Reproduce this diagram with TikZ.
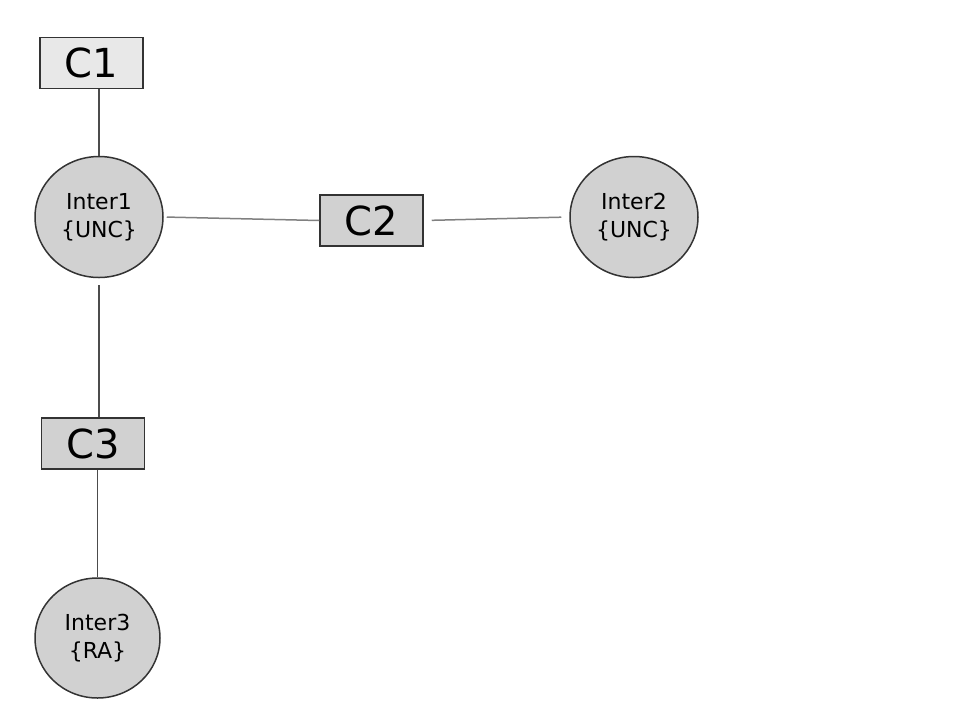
\documentclass[tikz,border=0pt]{standalone}
\usepackage{fontspec}
\setmainfont{DejaVu Sans}
\usetikzlibrary{shapes.geometric}
\begin{document}
\begin{tikzpicture}[x=1pt,y=-1pt,
  cbox/.style={draw=black!80,line width=1.5pt,minimum width=103pt,minimum height=51pt,inner sep=0pt,font=\fontsize{40}{44}\selectfont},
  inter/.style={ellipse,draw=black!80,line width=1.5pt,fill=black!18,minimum width=128pt,minimum height=121pt,inner sep=0pt,align=center,font=\fontsize{22}{28}\selectfont},
  link/.style={black!50,line width=1.5pt}]
\useasboundingbox (0,0) rectangle (978,716);
\node[cbox,fill=black!9] (c1) at (91.5,63) {C1};
\node[inter] (i1) at (99,217) {Inter1\\\{UNC\}};
\node[cbox,fill=black!18] (c2) at (371.5,220.5) {C2};
\node[inter] (i2) at (634,217) {Inter2\\\{UNC\}};
\node[cbox,fill=black!18] (c3) at (93,443.5) {C3};
\node[inter,minimum width=125pt,minimum height=120pt] (i3) at (97.5,638) {Inter3\\\{RA\}};
\draw[link,black!70] (c1.south -| i1.north) -- (i1.north);
\draw[link,shorten <=3pt] (i1.east) -- (c2.west);
\draw[link,shorten <=8pt,shorten >=8pt] (c2.east) -- (i2.west);
\draw[link,black!70,shorten <=7pt] (i1.south) -- (c3.north -| i1.south);
\draw[link,black!70] (c3.south -| i3.north) -- (i3.north);
\end{tikzpicture}
\end{document}
